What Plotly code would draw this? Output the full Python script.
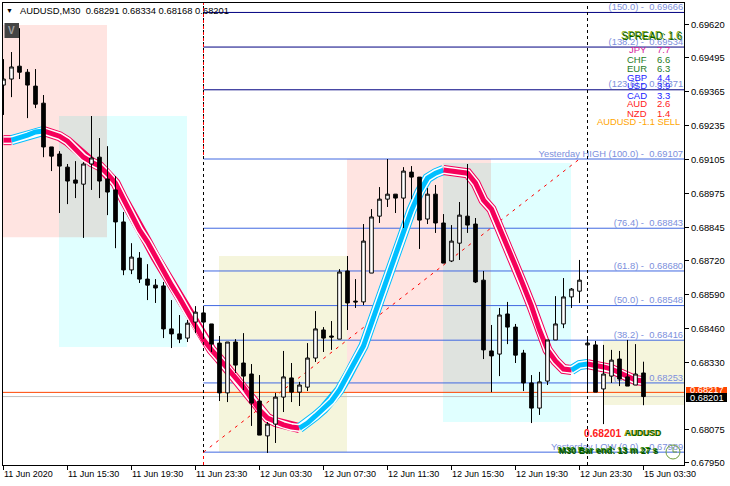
import plotly.graph_objects as go

# ---- price data, in points (1e-5) ----
opens = [69389,69412,69461,69438,69385,69320,69153,69126,69076,69027,69011,69088,69114,69031,68989,68867,68684,68729,68649,68626,68623,68459,68440,68424,68485,68520,68478,68405,68215,68409,68329,68287,68184,68051,68096,68199,68272,68218,68237,68348,68455,68432,68420,68680,68565,68562,68672,68889,68954,68973,68958,69057,69038,68878,68973,68863,68718,68786,68889,68859,68645,68375,68363,68516,68466,68367,68253,68157,68260,68417,68478,68581,68603,68398,68398,68230,68279,68344,68276,68245,68291]
highs = [69488,69515,69606,69450,69450,69351,69153,69137,69088,69099,69095,69271,69187,69156,69042,68905,68786,68752,68706,68649,68638,68569,68512,68493,68546,68539,68478,68432,68409,68420,68443,68325,68283,68104,68215,68375,68329,68257,68405,68527,68466,68489,68687,68737,68649,68859,68916,69000,69107,68973,69076,69080,69038,68996,69008,68897,68855,68943,69088,68882,68680,68474,68539,68562,68478,68379,68283,68295,68417,68584,68653,68615,68722,68424,68413,68398,68379,68375,68417,68401,68334]
lows = [69275,69343,69412,69263,69301,69114,69061,68901,68935,68958,68806,68989,68958,68893,68767,68664,68668,68634,68569,68558,68424,68386,68405,68409,68443,68424,68371,68184,68180,68291,68226,68089,68054,67986,68024,68142,68180,68165,68222,68333,68371,68379,68420,68455,68539,68550,68672,68863,68924,68901,68844,68954,68764,68859,68825,68710,68714,68722,68825,68634,68344,68218,68279,68401,68329,68222,68100,68131,68245,68417,68462,68539,68558,68218,68218,68096,68253,68241,68241,68245,68168]
closes = [69412,69458,69438,69389,69316,69153,69118,69080,69023,69015,69088,69111,69023,68981,68867,68684,68733,68649,68626,68615,68459,68440,68420,68481,68523,68485,68401,68215,68409,68321,68279,68176,68054,68096,68199,68276,68218,68245,68348,68459,68424,68428,68676,68558,68562,68794,68886,68954,68973,68958,69061,69038,68874,68973,68863,68710,68794,68893,68855,68638,68379,68356,68512,68466,68359,68253,68157,68257,68417,68478,68581,68611,68645,68405,68218,68287,68340,68268,68241,68287,68201]
ribbon = [69179,69179,69187,69198,69210,69214,69206,69194,69175,69145,69114,69095,69080,69050,69015,68954,68893,68836,68790,68733,68680,68626,68577,68523,68470,68417,68379,68344,68306,68276,68237,68192,68150,68119,68104,68093,68085,68081,68100,68127,68154,68184,68226,68279,68337,68394,68481,68569,68664,68741,68828,68912,68981,69034,69053,69065,69061,69053,69053,69015,68950,68916,68847,68775,68699,68623,68546,68455,68379,68337,68306,68302,68321,68325,68321,68314,68306,68291,68276,68264,68260]
ribbon_runs = [(0,1,"down"),(1,5,"up"),(5,37,"down"),(37,55,"up"),(55,71,"down"),(71,73,"up"),(73,80,"down")]

x_tick_bars = [0,8,16,24,32,40,48,56,64,72,80]
x_tick_labels = ["11 Jun 2020","11 Jun 15:30","11 Jun 19:30","11 Jun 23:30","12 Jun 03:30","12 Jun 07:30","12 Jun 11:30","12 Jun 15:30","12 Jun 19:30","12 Jun 23:30","15 Jun 03:30"]
y_tick_labels = ["0.69620","0.69495","0.69365","0.69235","0.69105","0.68975","0.68845","0.68720","0.68590","0.68460","0.68330","0.68075","0.67950"]

fib_levels = [0.69666,0.69534,0.69371,0.69107,0.68843,0.68680,0.68548,0.68416,0.68253,0.67989]
fib_texts = ["(150.0) -  0.69666","(138.2) -  0.69534","(123.6) -  0.69371","Yesterday HIGH (100.0) -  0.69107","(76.4) -  0.68843","(61.8) -  0.68680","(50.0) -  0.68548","(38.2) -  0.68416","(23.6) -  0.68253","Yesterday LOW (0.0) -  0.67989"]
fib_colors = ["#000080"]*3 + ["#4169E1"]*7

zones = [
    (-0.0625,12.94,0.69618,0.68809,"#FFE4E1"),
    (6.94,22.94,0.69271,0.68390,"#E0FFFF"),
    (6.94,12.94,0.69271,0.68809,"#DFE3DF"),
    (26.94,42.94,0.68737,0.67990,"#F5F5DC"),
    (42.94,60.94,0.69107,0.68218,"#FFE4E1"),
    (54.94,70.94,0.69092,0.68104,"#E0FFFF"),
    (54.94,60.94,0.69092,0.68218,"#DFE3DF"),
    (74.94,85.0625,0.68417,0.68169,"#F5F5DC"),
]
strength_names = ["JPY","CHF","EUR","GBP","USD","CAD","AUD","NZD"]
strength_values = ["7.7","6.6","6.3","4.4","3.9","3.3","2.6","1.4"]
strength_colors = ["#D6219B","#1E7B1E","#1E7B1E","#2222FF","#2222FF","#2222FF","#FF2020","#FF2020"]

WIDTH, HEIGHT = 730, 486
L, R, T, B = 3, 684, 3, 465
XR = [-0.0625, 85.0625]
YR = [0.67940, 0.69702]
FONT = "Liberation Sans"
LABEL = "#7C8FDC"

def px(x): return (x - L) / (R - L)
def py(y): return 1 - (y - T) / (B - T)

bars = list(range(len(opens)))
fig = go.Figure()

# fibonacci lines and labels
for lv, c in zip(fib_levels, fib_colors):
    fig.add_trace(go.Scatter(x=[25, XR[1]], y=[lv, lv], mode="lines", line=dict(color=c, width=1), hoverinfo="skip", showlegend=False))
fig.add_trace(go.Scatter(x=[84.95]*len(fib_levels), y=fib_levels, mode="text", text=fib_texts, textposition="top left",
                         textfont=dict(family=FONT, size=9.4, color=LABEL), hoverinfo="skip", showlegend=False, cliponaxis=False))
# trend line between the low and the high
fig.add_trace(go.Scatter(x=[25, 72], y=[0.67989, 0.69107], mode="lines", line=dict(color="#FF0000", width=1, dash="3px,5px"), hoverinfo="skip", showlegend=False))
# price lines
fig.add_trace(go.Scatter(x=XR, y=[0.68201, 0.68201], mode="lines", line=dict(color="#C0C0C0", width=1), hoverinfo="skip", showlegend=False))
fig.add_trace(go.Scatter(x=XR, y=[0.68217, 0.68217], mode="lines", line=dict(color="#FF4500", width=1), hoverinfo="skip", showlegend=False))

# trend ribbon
COL = {"down": "#F5005A", "up": "#00BFFF"}
for width, role in [(10, "c"), (8, "w"), (5, "c")]:
    for a, b, d in ribbon_runs:
        color = COL[d] if role == "c" else "#FFFFFF"
        fig.add_trace(go.Scatter(x=bars[a:b+1], y=[v/1e5 for v in ribbon[a:b+1]], mode="lines",
                                 line=dict(color=color, width=width, shape="linear"), hoverinfo="skip", showlegend=False))

# candles on an overlaid axis so that they sit above the ribbon
fig.add_trace(go.Candlestick(x=bars, open=[v/1e5 for v in opens], high=[v/1e5 for v in highs], low=[v/1e5 for v in lows], close=[v/1e5 for v in closes],
                             xaxis="x2", yaxis="y2", showlegend=False,
                             increasing=dict(line=dict(color="#000000", width=1), fillcolor="#FFFFFF"),
                             decreasing=dict(line=dict(color="#000000", width=1), fillcolor="#000000")))

shapes = []
for x0, x1, y0, y1, c in zones:
    shapes.append(dict(type="rect", xref="x", yref="y", x0=x0, x1=x1, y0=y0, y1=y1, fillcolor=c, line=dict(width=0), layer="below"))
for xb in (25, 73):
    shapes.append(dict(type="line", xref="x", yref="paper", x0=xb, x1=xb, y0=0, y1=1, line=dict(color="#000000", width=1, dash="3px,3px"), layer="above"))
shapes.append(dict(type="line", xref="x", yref="paper", x0=25, x1=25, y0=py(155), y1=1, line=dict(color="#FF0000", width=1, dash="3px,3px"), layer="above"))
shapes.append(dict(type="line", xref="x", yref="paper", x0=25, x1=25, y0=0, y1=py(452), line=dict(color="#FF0000", width=1, dash="3px,3px"), layer="above"))
shapes.append(dict(type="rect", xref="paper", yref="paper", x0=px(4.5), x1=px(19), y0=py(38), y1=py(23), fillcolor="#444444", line=dict(width=0), layer="above"))
shapes.append(dict(type="rect", xref="paper", yref="paper", x0=px(686), x1=px(727), y0=py(393), y1=py(387), fillcolor="#FF4500", line=dict(width=0), layer="above"))
shapes.append(dict(type="rect", xref="paper", yref="paper", x0=px(686), x1=px(727), y0=py(402), y1=py(393), fillcolor="#000000", line=dict(width=0), layer="above"))

ann = []
def text(x, y, s, color="#000000", size=10, anchor="left", bold=False):
    ann.append(dict(x=px(x), y=py(y), xref="paper", yref="paper", xanchor=anchor, yanchor="middle", text=("<b>%s</b>" % s) if bold else s,
                    showarrow=False, borderpad=0, font=dict(family=FONT, size=size, color=color)))

for b_, s in zip(x_tick_bars, x_tick_labels):
    text(3 + 8*b_, 474, s, size=9)
text(19, 10.5, "AUDUSD,M30  0.68291 0.68334 0.68168 0.68201", size=9.4)
text(9, 10.5, "▼", size=7, anchor="center")
text(11.5, 30.5, "V", color="#A0A0A0", size=10, anchor="center", bold=True)

text(683, 36, "SPREAD: 1.6", color="#7FA800", size=10, anchor="right")
text(684, 36.5, "SPREAD: 1.6", color="#005C00", size=10, anchor="right")
for k, (n, v, c) in enumerate(zip(strength_names, strength_values, strength_colors)):
    yy = 50 + 9*k
    text(648, yy, n, color=c, size=9.5, anchor="right")
    text(670.5, yy, v, color=c, size=9.5, anchor="right")
text(680.5, 121.7, "AUDUSD -1.1 SELL", color="#FFA500", size=9.3, anchor="right")

text(706.5, 390, "0.68217", color="#FFFFFF", size=9.3, anchor="center")
text(706.5, 397.5, "0.68201", color="#FFFFFF", size=9.3, anchor="center")

text(583, 433, "0.68201", color="#FF2020", size=10.3, bold=True)
text(623, 433, "AUDUSD", color="#C8A000", size=8.5, bold=True)
text(624, 433, "AUDUSD", color="#006400", size=8.5, bold=True)
text(557, 449.5, "M30 Bar end: 13 m 27 s", color="#2E8B00", size=9, bold=True)
text(558, 450.5, "M30 Bar end: 13 m 27 s", color="#005000", size=9, bold=True)

shapes.append(dict(type="circle", xref="paper", yref="paper", x0=px(666), x1=px(680), y0=py(459), y1=py(445), line=dict(color="#6E9E3C", width=1), fillcolor="rgba(0,0,0,0)"))
shapes.append(dict(type="line", xref="paper", yref="paper", x0=px(673), x1=px(673), y0=py(452), y1=py(447), line=dict(color="#6E9E3C", width=1)))
shapes.append(dict(type="line", xref="paper", yref="paper", x0=px(673), x1=px(677), y0=py(452), y1=py(452), line=dict(color="#6E9E3C", width=1)))

axis_common = dict(showgrid=False, zeroline=False)
fig.update_layout(
    width=WIDTH, height=HEIGHT, showlegend=False, autosize=False,
    margin=dict(l=L, r=WIDTH-R, t=T, b=HEIGHT-B, pad=0),
    paper_bgcolor="#FFFFFF", plot_bgcolor="#FFFFFF", boxgap=0.35,
    xaxis=dict(range=XR, tickmode="array", tickvals=[b-0.0625 for b in x_tick_bars], ticktext=[""]*len(x_tick_bars),
               ticks="outside", ticklen=4, tickcolor="#000000", showline=True, linecolor="#000000", mirror=True, linewidth=1,
               rangeslider=dict(visible=False), **axis_common),
    yaxis=dict(range=YR, side="right", tickmode="array", tickvals=[float(v) for v in y_tick_labels], ticktext=y_tick_labels,
               ticks="outside", ticklen=4, tickcolor="#000000", showline=True, linecolor="#000000", mirror=True, linewidth=1,
               tickfont=dict(family=FONT, size=9.4, color="#000000"), **axis_common),
    xaxis2=dict(range=XR, overlaying="x", visible=False, rangeslider=dict(visible=False), **axis_common),
    yaxis2=dict(range=YR, overlaying="y", side="right", visible=False, **axis_common),
    shapes=shapes, annotations=ann,
)
fig.write_html("out.html", config=dict(displayModeBar=False), post_script="document.body.style.margin='0';document.body.style.overflow='hidden';")
